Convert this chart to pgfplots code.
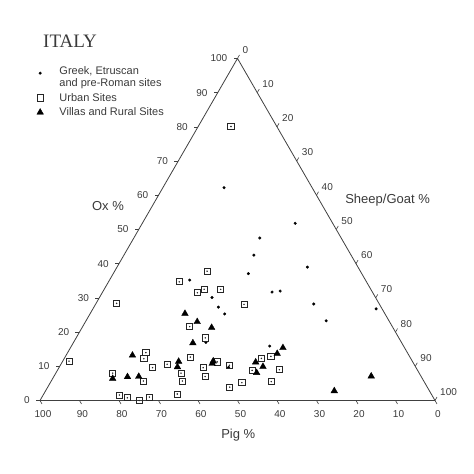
\documentclass[border=0pt]{standalone}
\usepackage{pgfplots}
\pgfplotsset{compat=1.18}
\usepackage{pgfplotstable}
\usepackage{fontspec}
\setmainfont{Liberation Sans}
\newfontfamily\titlefont{Liberation Serif}
\definecolor{txt}{HTML}{3A3A3A}
\definecolor{frame}{HTML}{404040}

% ternary values: Ox %, Pig %, Sheep/Goat %
\pgfplotstableread{
ox   pig  sheep
62.2 22.3 15.5
51.8  9.5 38.7
47.5 20.6 31.9
42.5 24.6 32.9
39.0 12.8 48.2
37.1 28.7 34.2
35.2 44.5 20.3
31.7 25.4 42.9
32.0 23.2 44.8
30.1 41.4 28.5
28.2 16.6 55.2
27.3 41.2 31.5
25.3 40.6 34.1
23.3 15.9 60.8
26.8  1.5 71.7
17.0 49.5 33.5
15.9 33.9 50.2
 9.7 47.4 42.9
}\greek

\pgfplotstableread{
ox   pig  sheep
80.1 11.6  8.3
11.5 86.9  1.6
28.4 66.4  5.2
14.0 66.2 19.8
12.2 67.6 20.2
 9.6 66.7 23.7
10.6 62.5 26.9
 8.0 77.6 14.4
 5.7 71.0 23.3
 1.6 79.1 19.3
 0.8 77.5 21.7
 0.0 74.9 25.1
 1.0 71.8 27.2
 1.9 64.3 33.8
34.7 47.4 17.9
37.8 38.8 23.4
32.5 42.2 25.3
31.5 44.4 24.1
32.5 38.0 29.5
28.1 34.3 37.6
21.6 51.3 27.1
18.3 49.0 32.7
12.9 35.1 52.0
12.3 37.8 49.9
12.7 55.6 31.7
11.3 49.5 39.2
 9.6 53.9 36.5
10.3 46.9 42.8
 8.8 41.9 49.3
 9.0 34.9 56.1
 8.0 60.3 31.7
 7.0 54.7 38.3
 5.7 61.1 33.2
 5.5 38.7 55.8
 5.2 46.3 48.5
 3.9 50.0 46.1
}\urban

\pgfplotstableread{
ox   pig  sheep
13.2 70.0 16.8
 6.4 78.4 15.2
 6.9 74.4 18.7
 7.0 71.5 21.5
11.4 59.2 29.4
 9.8 60.3 29.9
25.4 50.6 24.0
23.0 48.7 28.3
21.3 45.9 32.8
16.8 52.9 30.3
11.5 50.4 38.1
10.8 51.0 38.2
15.4 30.8 53.8
13.7 33.1 53.2
11.2 39.8 49.0
 9.9 38.6 51.5
 8.1 41.1 50.8
 7.1 12.6 80.3
 2.8 24.1 73.1
}\villas

\begin{document}
\begin{tikzpicture}
\useasboundingbox (-40pt,-73.5pt) rectangle (434pt,400.5pt);
\begin{axis}[
    at={(0pt,0pt)}, anchor=south west,
    x=3.95pt, y=3.95pt,
    xmin=0, xmax=100, ymin=0, ymax=86.6025,
    hide axis, clip=false,
    legend style={draw=none, fill=none, at={(axis cs:-1.6,85.7)}, anchor=north west,
        font=\fontsize{11}{12.5}\selectfont, text=txt, cells={align=left},
        row sep=1pt, column sep=14pt},
    legend cell align=left,
]

% frame
\addplot[frame, line width=0.8pt, line join=round, forget plot] coordinates {(0,0) (100,0) (50,86.6025) (0,0)};

% ticks and tick labels
\pgfplotsinvokeforeach{0,10,...,100}{
    \draw[frame, line width=0.6pt] (axis cs:{#1/2},{0.8660254*#1}) -- ++(-4pt,0pt);
    \node[anchor=east, inner sep=0pt, text=txt, font=\fontsize{10}{12}\selectfont, xshift=-10pt]
        at (axis cs:{#1/2},{0.8660254*#1}) {#1};
    \draw[frame, line width=0.6pt] (axis cs:{100-#1},0) -- ++(2pt,-3.46pt);
    \node[anchor=north, inner sep=0pt, text=txt, font=\fontsize{10}{12}\selectfont, xshift=3pt, yshift=-10pt]
        at (axis cs:{100-#1},0) {#1};
    \draw[frame, line width=0.6pt] (axis cs:{50+#1/2},{86.6025-0.8660254*#1}) -- ++(2pt,3.46pt);
    \node[anchor=west, inner sep=0pt, text=txt, font=\fontsize{10}{12}\selectfont, xshift=5pt, yshift=8.5pt]
        at (axis cs:{50+#1/2},{86.6025-0.8660254*#1}) {#1};
}

% axis titles
\node[text=txt, font=\fontsize{13}{15}\selectfont] at (axis cs:17.2,49.3) {Ox \%};
\node[text=txt, font=\fontsize{13}{15}\selectfont] at (axis cs:88.0,50.6) {Sheep/Goat \%};
\node[text=txt, font=\fontsize{13}{15}\selectfont] at (axis cs:50.2,-8.73) {Pig \%};
\node[text=txt, font=\titlefont\fontsize{19}{21}\selectfont] at (axis cs:7.6,91.0) {ITALY};

% data, placed by x = sheep + ox/2, y = ox*sqrt(3)/2
\addplot[only marks, mark=*, mark size=1.3pt, black, legend image post style={yshift=4pt}]
    table[x expr=\thisrow{sheep}+0.5*\thisrow{ox}, y expr=0.8660254*\thisrow{ox}] {\greek};
\addlegendentry{Greek, Etruscan\\and pre-Roman sites}
\addplot[only marks, mark=square, mark size=3.1pt, black!85, line width=0.8pt]
    table[x expr=\thisrow{sheep}+0.5*\thisrow{ox}, y expr=0.8660254*\thisrow{ox}] {\urban};
\addlegendentry{Urban Sites}
\addplot[only marks, mark=triangle*, mark size=3.8pt, black]
    table[x expr=\thisrow{sheep}+0.5*\thisrow{ox}, y expr=0.8660254*\thisrow{ox}] {\villas};
\addlegendentry{Villas and Rural Sites}
\addplot[only marks, mark=*, mark size=0.5pt, black!85, forget plot]
    table[x expr=\thisrow{sheep}+0.5*\thisrow{ox}, y expr=0.8660254*\thisrow{ox}] {\urban};

\end{axis}
\end{tikzpicture}
\end{document}
